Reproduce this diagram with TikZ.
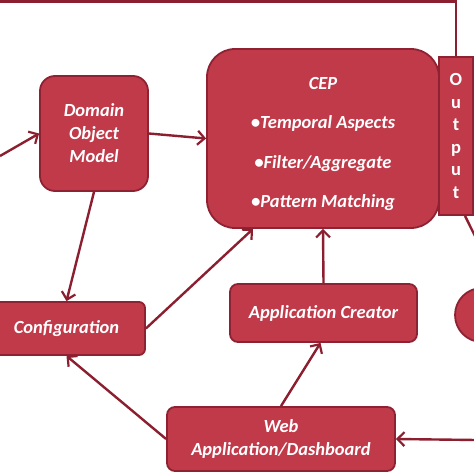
\documentclass[tikz,border=0pt]{standalone}
\usepackage{fontspec}
\setmainfont{Carlito}
\usetikzlibrary{arrows.meta,calc}
\definecolor{boxfill}{HTML}{C03A4A}
\definecolor{boxedge}{HTML}{8E2232}
\definecolor{linecol}{HTML}{8C1F2F}
\tikzset{
  blk/.style={draw=boxedge, line width=1.8pt, fill=boxfill, text=white,
    font=\fontsize{18.5}{23}\selectfont\bfseries\itshape, align=center,
    inner sep=0pt, rounded corners=#1},
  blk/.default=8pt,
  conn/.style={draw=linecol, line width=2.4pt, -{Straight Barb[length=7pt,width=14pt,line width=2.2pt]}},
  plain/.style={draw=linecol, line width=2.4pt}
}
\begin{document}
\begin{tikzpicture}[x=1pt,y=-1pt]
\fill[white] (0,0) rectangle (474,474);
\useasboundingbox (0,0) rectangle (474,474);
% nodes
\node[blk=15pt, minimum width=108pt, minimum height=115pt] (dom) at (94,133.5) {Domain\\Object\\Model};
\node[blk=28pt, minimum width=232pt, minimum height=179pt] (cep) at (323,138.5) {};
\node[text=white, align=center, inner sep=0pt,
      font=\fontsize{18.5}{39.5}\selectfont\bfseries\itshape] (ceptxt) at (323,144)
      {CEP\\•Temporal Aspects\\•Filter/Aggregate\\•Pattern Matching};
\node[blk=0pt, minimum width=34pt, minimum height=158pt,
      font=\fontsize{18.5}{22.6}\selectfont\bfseries] (out) at (456,136) {O\\u\\t\\p\\u\\t};
\node[blk=6pt, minimum width=157pt, minimum height=53pt] (cfg) at (66.5,328.5) {Configuration};
\node[blk=8pt, minimum width=187pt, minimum height=58pt] (app) at (323.5,313) {Application Creator};
\node[blk=8pt, minimum width=228pt, minimum height=64pt] (web) at (281,439) {Web\\Application/Dashboard};
\node[circle, draw=boxedge, line width=1.8pt, fill=boxfill, minimum size=54pt, inner sep=0pt] (circ) at (482,315) {};
% free ends
\coordinate (inL) at (0,156);
\coordinate (topL) at (0,1.5);
\coordinate (botR) at (476,238);
\coordinate (webR) at (476,440);
% connectors
\draw[conn] (inL) -- (dom.west);
\draw[conn] (dom.east) -- (cep.west);
\draw[conn] (dom.south) -- (cfg.north);
\draw[conn] (cfg.east) -- ($(cep.south)+(-70,0)$);
\draw[conn] (app.north) -- (cep.south);
\draw[conn] (web.north) -- ($(app.south)+(-3,0)$);
\draw[conn] (web.west) -- (cfg.south);
\draw[conn] (webR) -- (web.east);
\draw[plain] (out.north) -- (out.north |- topL) -- (topL);
\draw[plain] ($(out.south)+(9,0)$) -- (botR);
\end{tikzpicture}
\end{document}
